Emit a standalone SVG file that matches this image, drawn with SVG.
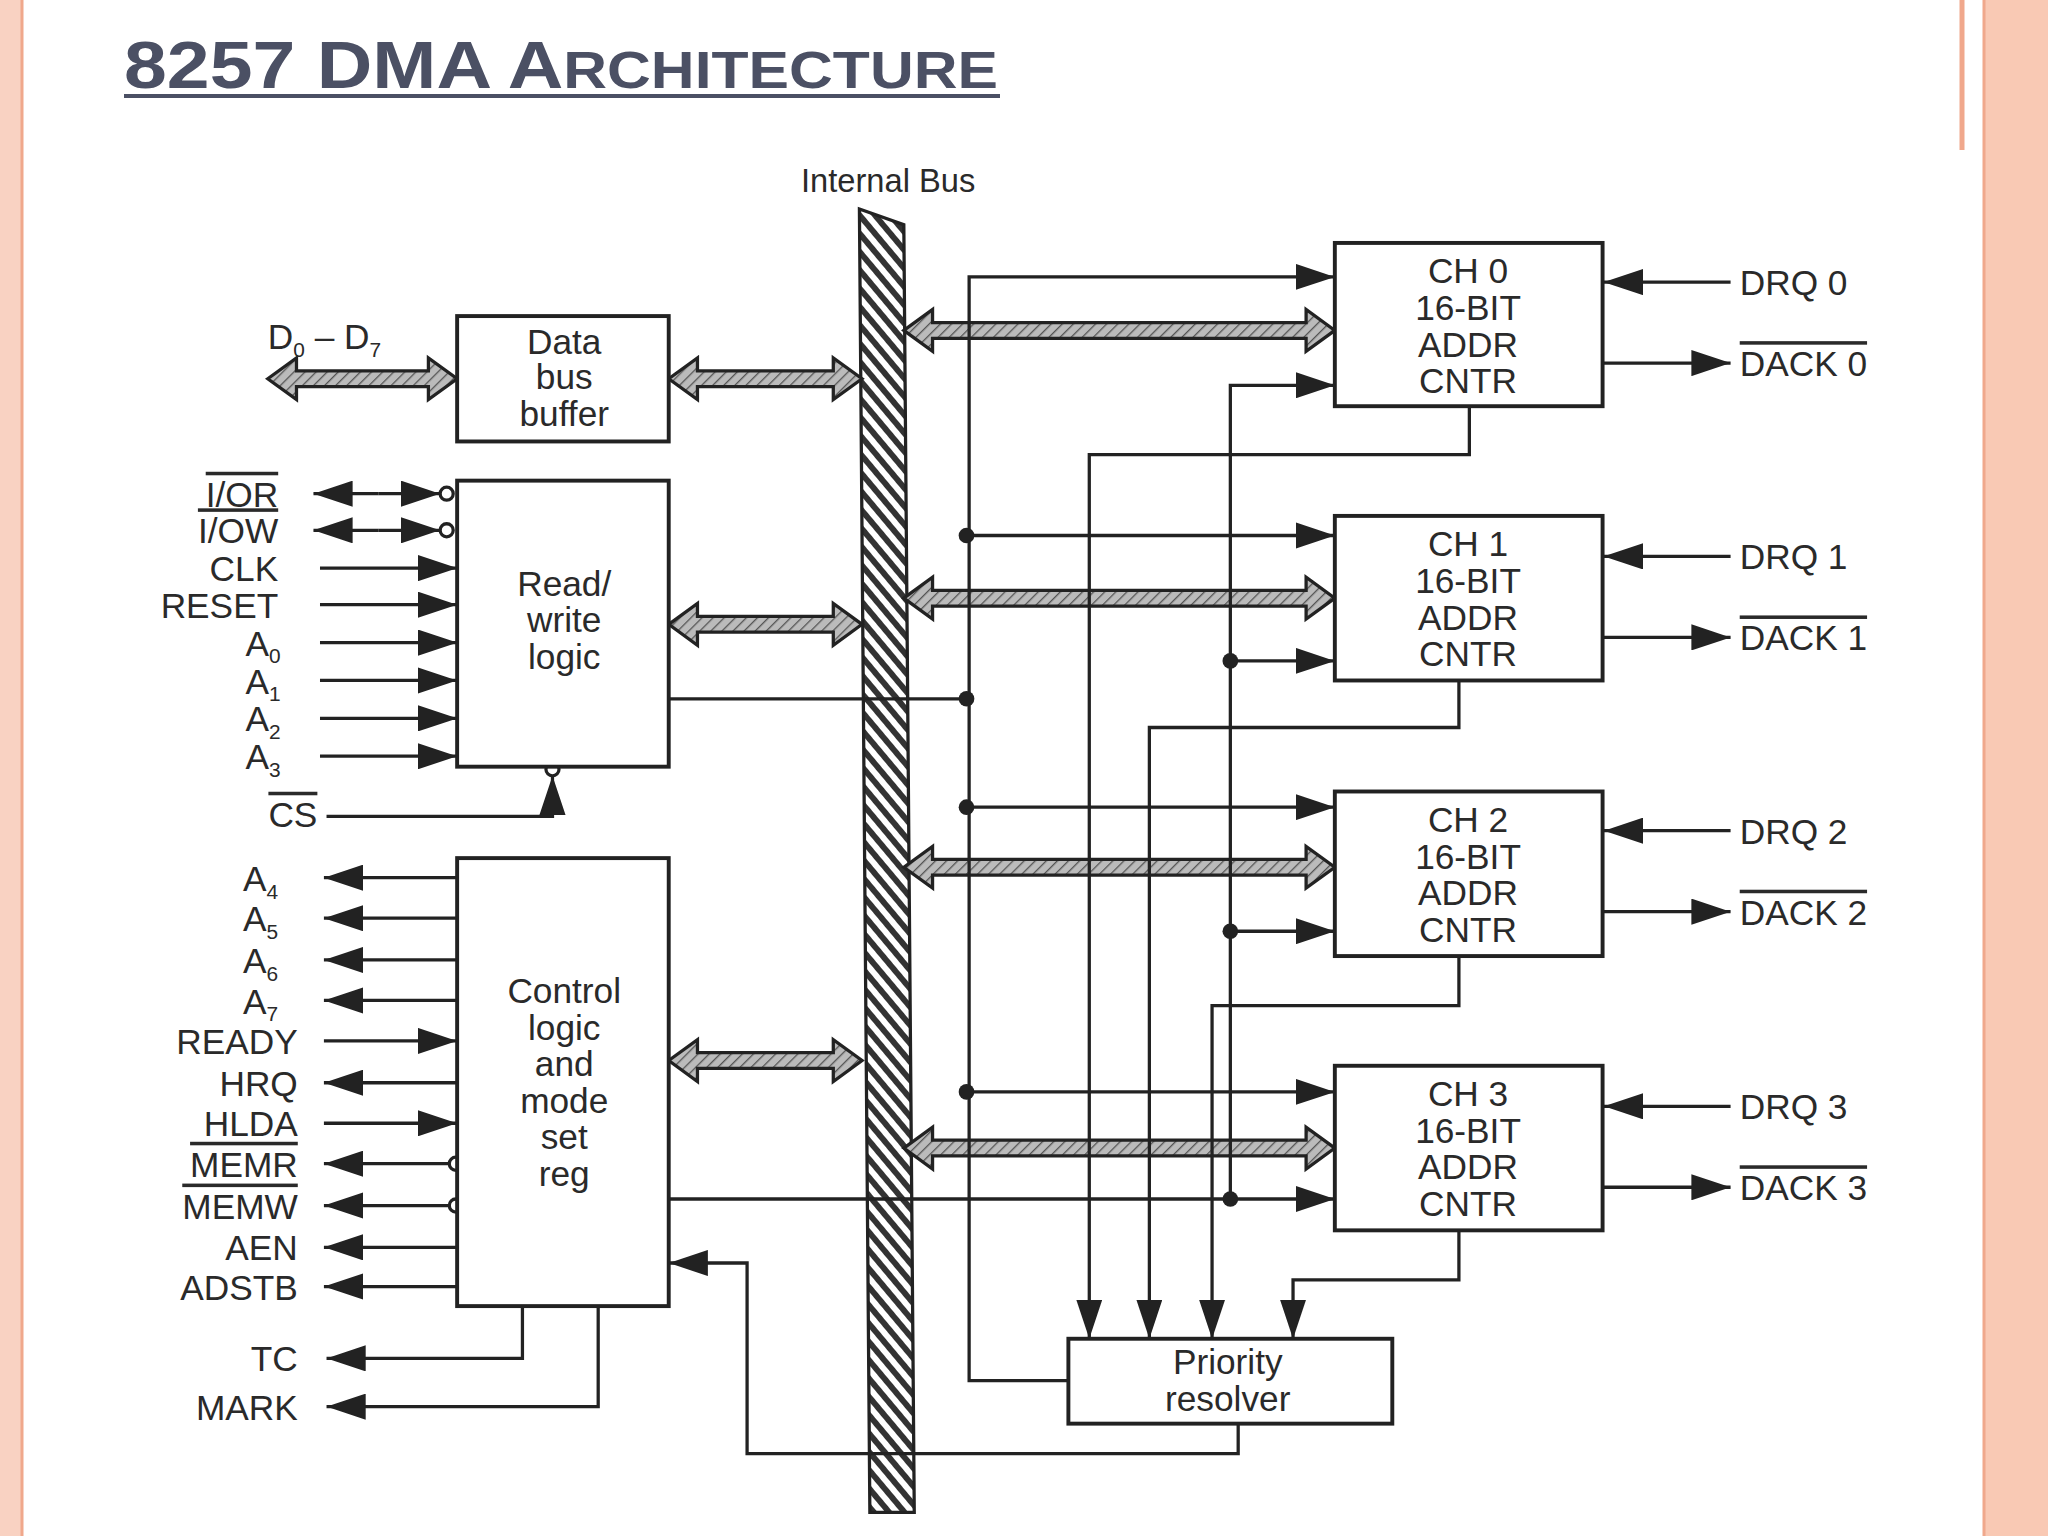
<svg xmlns="http://www.w3.org/2000/svg" width="2048" height="1536" viewBox="0 0 2048 1536">
<defs>
<style>
.t{font-family:"Liberation Sans",Arial,sans-serif;font-size:27px;fill:#2a2a2a}
.m{text-anchor:middle}
.e{text-anchor:end}
.b{fill:#fff;stroke:#222;stroke-width:3}
.l{fill:none;stroke:#222;stroke-width:2.5}
.a{fill:none;stroke:#222;stroke-width:2.5;marker-end:url(#ah)}
.w{fill:url(#hx);stroke:#222;stroke-width:2.5}
</style>
<marker id="ah" markerUnits="userSpaceOnUse" markerWidth="30" markerHeight="20" refX="30" refY="10" orient="auto"><path d="M0,0L30,10L0,20Z" fill="#222"/></marker>
<pattern id="hx" width="6" height="6" patternUnits="userSpaceOnUse" patternTransform="rotate(45)"><rect width="6" height="6" fill="#bbb"/><line x1="0" y1="0" x2="0" y2="6" stroke="#555" stroke-width="2"/></pattern>
<pattern id="bh" width="9" height="9" patternUnits="userSpaceOnUse" patternTransform="rotate(-40)"><rect width="9" height="9" fill="#fff"/><rect width="4.5" height="9" fill="#333"/></pattern>
</defs>
<rect width="2048" height="1536" fill="#fff"/>
<g id="frame">
<rect x="0" y="0" width="22" height="1536" fill="#f9d2c2"/>
<line x1="22" y1="0" x2="22" y2="1536" stroke="#f0a88c" stroke-width="3"/>
<rect x="1984" y="0" width="64" height="1536" fill="#f9c9b4"/>
<line x1="1984" y1="0" x2="1984" y2="1536" stroke="#f0a88c" stroke-width="3"/>
<line x1="1962" y1="0" x2="1962" y2="150" stroke="#f0a88c" stroke-width="5"/>
</g>
<g id="title"><text x="124" y="88" textLength="874" lengthAdjust="spacingAndGlyphs" style="font-family:'Liberation Sans',Arial,sans-serif;font-weight:bold;font-size:66px;fill:#4b5064">8257 DMA A<tspan font-size="52">RCHITECTURE</tspan></text>
<line x1="124" y1="96" x2="1000" y2="96" stroke="#4b5064" stroke-width="4"/></g>
<g transform="scale(1.3061)">
<text class="t m" x="680" y="147" style="font-size:25px">Internal Bus</text>
<g id="bus"><path d="M658,160L692,172L700,1158L666,1158Z" fill="url(#bh)" stroke="#222" stroke-width="2.5"/></g>
<g id="connectors">
<polygon class="w" points="205,290 227,274 227,284 328,284 328,274 350,290 328,306 328,296 227,296 227,306"/>
<polygon class="w" points="512,290 534,274 534,284 638,284 638,274 660,290 638,306 638,296 534,296 534,306"/>
<polygon class="w" points="512,478 534,462 534,472 638,472 638,462 660,478 638,494 638,484 534,484 534,494"/>
<polygon class="w" points="512,812 534,796 534,806 638,806 638,796 660,812 638,828 638,818 534,818 534,828"/>
<polygon class="w" points="692,253 714,237 714,247 1000,247 1000,237 1022,253 1000,269 1000,259 714,259 714,269"/>
<polygon class="w" points="692,458 714,442 714,452 1000,452 1000,442 1022,458 1000,474 1000,464 714,464 714,474"/>
<polygon class="w" points="692,664 714,648 714,658 1000,658 1000,648 1022,664 1000,680 1000,670 714,670 714,680"/>
<polygon class="w" points="692,879 714,863 714,873 1000,873 1000,863 1022,879 1000,895 1000,885 714,885 714,895"/>
<path class="a" d="M290,378H240"/><path class="a" d="M290,378H337"/>
<path class="a" d="M290,406H240"/><path class="a" d="M290,406H337"/>
<circle cx="342" cy="378" r="5" fill="#fff" stroke="#222" stroke-width="2.5"/>
<circle cx="342" cy="406" r="5" fill="#fff" stroke="#222" stroke-width="2.5"/>
<path class="a" d="M245,435H350"/><path class="a" d="M245,463H350"/>
<path class="a" d="M245,492H350"/><path class="a" d="M245,521H350"/>
<path class="a" d="M245,550H350"/><path class="a" d="M245,579H350"/>
<path class="a" d="M250,625H423V594"/>
<circle cx="423" cy="589" r="5" fill="#fff" stroke="#222" stroke-width="2.5"/>
<path class="a" d="M350,672H248"/><path class="a" d="M350,703H248"/>
<path class="a" d="M350,735H248"/><path class="a" d="M350,766H248"/>
<path class="a" d="M248,797H350"/><path class="a" d="M350,829H248"/>
<path class="a" d="M248,860H350"/><path class="a" d="M344,891H248"/>
<path class="a" d="M344,923H248"/><path class="a" d="M350,955H248"/>
<path class="a" d="M350,985H248"/>
<circle cx="349" cy="891" r="5" fill="#fff" stroke="#222" stroke-width="2.5"/>
<circle cx="349" cy="923" r="5" fill="#fff" stroke="#222" stroke-width="2.5"/>
<path class="a" d="M400,1000V1040H250"/>
<path class="a" d="M458,1000V1077H250"/>
<path class="l" d="M512,535H740"/>
<path class="a" d="M818,1057H742V212H1022"/>
<path class="a" d="M740,410H1022"/><path class="a" d="M740,618H1022"/><path class="a" d="M740,836H1022"/>
<circle cx="740" cy="410" r="6" fill="#222"/><circle cx="740" cy="535" r="6" fill="#222"/>
<circle cx="740" cy="618" r="6" fill="#222"/><circle cx="740" cy="836" r="6" fill="#222"/>
<path class="a" d="M942,918V295H1022"/>
<path class="a" d="M942,506H1022"/><path class="a" d="M942,713H1022"/>
<path class="a" d="M512,918H1022"/>
<circle cx="942" cy="506" r="6" fill="#222"/><circle cx="942" cy="713" r="6" fill="#222"/><circle cx="942" cy="918" r="6" fill="#222"/>
<path class="a" d="M1125,311V348H834V1025"/>
<path class="a" d="M1117,521V557H880V1025"/>
<path class="a" d="M1117,732V770H928V1025"/>
<path class="a" d="M1117,942V980H990V1025"/>
<path class="a" d="M948,1090V1113H572V967H512"/>
<path class="a" d="M1325,216H1228"/><path class="a" d="M1228,278H1325"/>
<path class="a" d="M1325,426H1228"/><path class="a" d="M1228,488H1325"/>
<path class="a" d="M1325,636H1228"/><path class="a" d="M1228,698H1325"/>
<path class="a" d="M1325,847H1228"/><path class="a" d="M1228,909H1325"/>
</g>
<g id="dbb"><rect class="b" x="350" y="242" width="162" height="96"/>
<text class="t m" x="432" y="271">Data</text><text class="t m" x="432" y="298">bus</text><text class="t m" x="432" y="326">buffer</text></g>
<g id="rwl"><rect class="b" x="350" y="368" width="162" height="219"/>
<text class="t m" x="432" y="456">Read/</text><text class="t m" x="432" y="484">write</text><text class="t m" x="432" y="512">logic</text></g>
<g id="ctl"><rect class="b" x="350" y="657" width="162" height="343"/>
<text class="t m" x="432" y="768">Control</text><text class="t m" x="432" y="796">logic</text><text class="t m" x="432" y="824">and</text><text class="t m" x="432" y="852">mode</text><text class="t m" x="432" y="880">set</text><text class="t m" x="432" y="908">reg</text></g>
<g id="ch0"><rect class="b" x="1022" y="186" width="205" height="125"/>
<text class="t m" x="1124" y="217">CH 0</text><text class="t m" x="1124" y="245">16-BIT</text><text class="t m" x="1124" y="273">ADDR</text><text class="t m" x="1124" y="301">CNTR</text></g>
<g id="ch1"><rect class="b" x="1022" y="395" width="205" height="126"/>
<text class="t m" x="1124" y="426">CH 1</text><text class="t m" x="1124" y="454">16-BIT</text><text class="t m" x="1124" y="482">ADDR</text><text class="t m" x="1124" y="510">CNTR</text></g>
<g id="ch2"><rect class="b" x="1022" y="606" width="205" height="126"/>
<text class="t m" x="1124" y="637">CH 2</text><text class="t m" x="1124" y="665">16-BIT</text><text class="t m" x="1124" y="693">ADDR</text><text class="t m" x="1124" y="721">CNTR</text></g>
<g id="ch3"><rect class="b" x="1022" y="816" width="205" height="126"/>
<text class="t m" x="1124" y="847">CH 3</text><text class="t m" x="1124" y="875">16-BIT</text><text class="t m" x="1124" y="903">ADDR</text><text class="t m" x="1124" y="931">CNTR</text></g>
<g id="pr"><rect class="b" x="818" y="1025" width="248" height="65"/>
<text class="t m" x="940" y="1052">Priority</text><text class="t m" x="940" y="1080">resolver</text></g>
<g id="labels">
<text class="t" x="205" y="267">D<tspan font-size="16" dy="6">0</tspan><tspan dy="-6"> – D</tspan><tspan font-size="16" dy="6">7</tspan></text>
<text class="t e" x="213" y="388" text-decoration="overline">I/OR</text>
<text class="t e" x="213" y="416" text-decoration="overline">I/OW</text>
<text class="t e" x="213" y="445">CLK</text><text class="t e" x="213" y="473">RESET</text>
<text class="t" x="188" y="502">A<tspan font-size="16" dy="6">0</tspan></text>
<text class="t" x="188" y="531">A<tspan font-size="16" dy="6">1</tspan></text>
<text class="t" x="188" y="560">A<tspan font-size="16" dy="6">2</tspan></text>
<text class="t" x="188" y="589">A<tspan font-size="16" dy="6">3</tspan></text>
<text class="t e" x="243" y="633" text-decoration="overline">CS</text>
<text class="t" x="186" y="682">A<tspan font-size="16" dy="6">4</tspan></text>
<text class="t" x="186" y="713">A<tspan font-size="16" dy="6">5</tspan></text>
<text class="t" x="186" y="745">A<tspan font-size="16" dy="6">6</tspan></text>
<text class="t" x="186" y="776">A<tspan font-size="16" dy="6">7</tspan></text>
<text class="t e" x="228" y="807">READY</text><text class="t e" x="228" y="839">HRQ</text>
<text class="t e" x="228" y="870">HLDA</text>
<text class="t e" x="228" y="901" text-decoration="overline">MEMR</text>
<text class="t e" x="228" y="933" text-decoration="overline">MEMW</text>
<text class="t e" x="228" y="965">AEN</text><text class="t e" x="228" y="995">ADSTB</text>
<text class="t e" x="228" y="1050">TC</text><text class="t e" x="228" y="1087">MARK</text>
<text class="t" x="1332" y="226">DRQ 0</text><text class="t" x="1332" y="288" text-decoration="overline">DACK 0</text>
<text class="t" x="1332" y="436">DRQ 1</text><text class="t" x="1332" y="498" text-decoration="overline">DACK 1</text>
<text class="t" x="1332" y="646">DRQ 2</text><text class="t" x="1332" y="708" text-decoration="overline">DACK 2</text>
<text class="t" x="1332" y="857">DRQ 3</text><text class="t" x="1332" y="919" text-decoration="overline">DACK 3</text>
</g>
</g>
</svg>
